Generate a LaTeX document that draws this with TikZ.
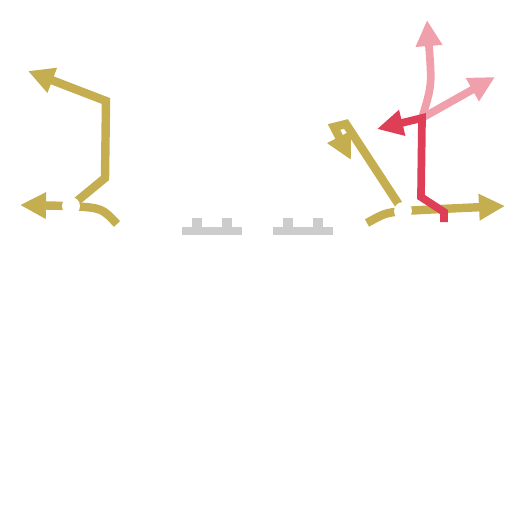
\documentclass[tikz,border=0pt]{standalone}
\usepackage{tikz}
\usetikzlibrary{arrows.meta}

\definecolor{runGold}{RGB}{196,174,80}
\definecolor{passRed}{RGB}{222,63,87}
\definecolor{passPink}{RGB}{239,160,170}
\definecolor{coneGray}{RGB}{204,204,204}

\tikzset{
  run/.style={line width=4.8pt, runGold, -{Triangle[length=0.52cm,width=0.5cm]}},
  pass/.style={line width=4.4pt, passRed, -{Triangle[length=0.52cm,width=0.5cm]}},
  option/.style={line width=4.4pt, passPink, -{Triangle[length=0.52cm,width=0.5cm]}},
  player/.style={circle, fill=white, inner sep=0pt, minimum size=0.36cm}
}

\begin{document}
\begin{tikzpicture}[x=0.02cm, y=-0.02cm]
  \useasboundingbox (0,0) rectangle (512,512);

  % Players and turning points
  \coordinate (pl) at (71,206);
  \coordinate (pr) at (403,211);
  \coordinate (rk) at (422,118);

  % Left side runs
  \draw[run] (117,224) .. controls (102,208) .. (pl) -- (20,205);
  \draw[run] (pl) -- (105,178) -- (106,101) -- (28,71);

  % Right side runs
  \draw[run] (367,223) .. controls (385,213) .. (pr) .. controls (440,209) .. (505,206);
  \draw[run] (pr) -- (346,124) -- (334,127) -- (351,160);

  % Passing options
  \draw[option] (rk) .. controls (432,85) .. (427,20);
  \draw[option] (rk) -- (495,77);
  \draw[pass, line cap=butt] (444,222) -- (444,212) -- (421,197) -- (rk) -- (377,129);

  % Player dots drawn on top
  \node[player] (plnode) at (pl) {};
  \node[player] (prnode) at (pr) {};

  % Cones
  \foreach \cx in {197,227,288,318} {
    \fill[coneGray] (\cx-15,235) rectangle (\cx+15,227);
    \fill[coneGray] (\cx-5,227.5) rectangle (\cx+5,218);
  }

\end{tikzpicture}
\end{document}
